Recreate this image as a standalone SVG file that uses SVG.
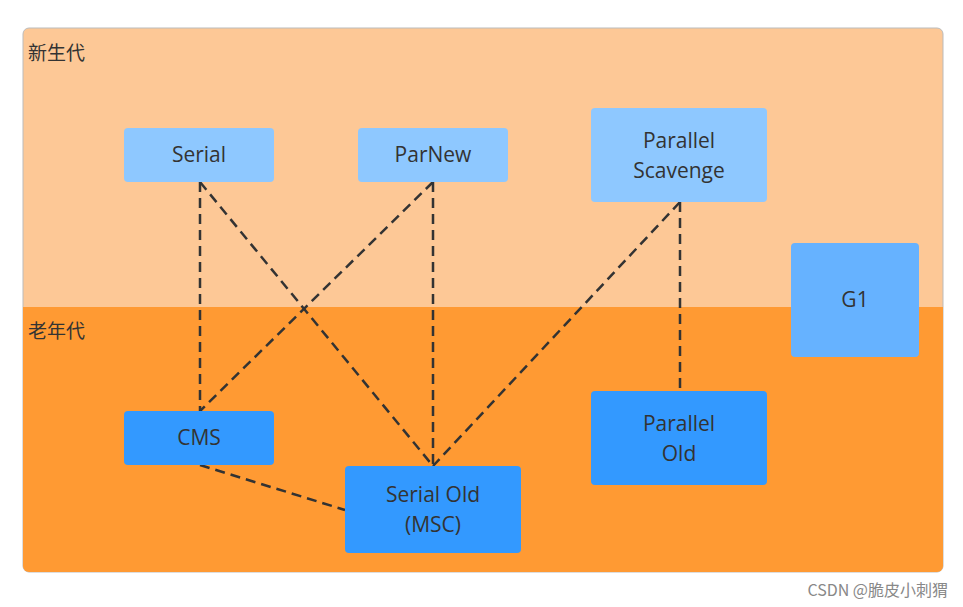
<svg xmlns="http://www.w3.org/2000/svg" width="963" height="607" viewBox="0 0 963 607">
<style>
.t{font-family:"Open Sans","Liberation Sans",sans-serif;font-size:21px;fill:#333;text-anchor:middle}
.z{font-family:"Noto Sans CJK SC",sans-serif;font-size:19px;fill:#333}
.c{stroke:#333;stroke-width:2.5;stroke-dasharray:10 6;fill:none}
</style>
<rect width="963" height="607" fill="#fff"/>
<rect x="23" y="28" width="920" height="544" rx="6" fill="#FDC896" stroke="#bbb"/>
<path d="M23 307H943V566a6 6 0 0 1-6 6H29a6 6 0 0 1-6-6Z" fill="#FF9A33"/>
<text class="z" x="28" y="60">新生代</text>
<text class="z" x="28" y="338">老年代</text>
<g id="connectors">
<line class="c" x1="200" y1="182" x2="200" y2="411"/>
<line class="c" x1="200" y1="182" x2="433" y2="466"/>
<line class="c" x1="433" y1="182" x2="200" y2="411"/>
<line class="c" x1="433" y1="182" x2="433" y2="466"/>
<line class="c" x1="680" y1="202" x2="433" y2="466"/>
<line class="c" x1="680" y1="202" x2="680" y2="391"/>
<line class="c" x1="200" y1="465" x2="345" y2="510"/>
</g>
<g id="serial"><rect x="124" y="128" width="150" height="54" rx="4" fill="#8EC8FF"/><text class="t" x="199" y="162">Serial</text></g>
<g id="parnew"><rect x="358" y="128" width="150" height="54" rx="4" fill="#8EC8FF"/><text class="t" x="433" y="162">ParNew</text></g>
<g id="ps"><rect x="591" y="108" width="176" height="94" rx="4" fill="#8EC8FF"/><text class="t" x="679" y="148">Parallel</text><text class="t" x="679" y="178">Scavenge</text></g>
<g id="g1"><rect x="791" y="243" width="128" height="114" rx="4" fill="#66B2FF"/><text class="t" x="855" y="307">G1</text></g>
<g id="cms"><rect x="124" y="411" width="150" height="54" rx="4" fill="#3399FF"/><text class="t" x="199" y="445">CMS</text></g>
<g id="serialold"><rect x="345" y="466" width="176" height="87" rx="4" fill="#3399FF"/><text class="t" x="433" y="502">Serial Old</text><text class="t" x="433" y="532">(MSC)</text></g>
<g id="parallelold"><rect x="591" y="391" width="176" height="94" rx="4" fill="#3399FF"/><text class="t" x="679" y="431">Parallel</text><text class="t" x="679" y="461">Old</text></g>
<text x="948" y="596" font-family="Noto Sans CJK SC,sans-serif" font-size="16" fill="#888" text-anchor="end">CSDN @脆皮小刺猬</text>
</svg>
